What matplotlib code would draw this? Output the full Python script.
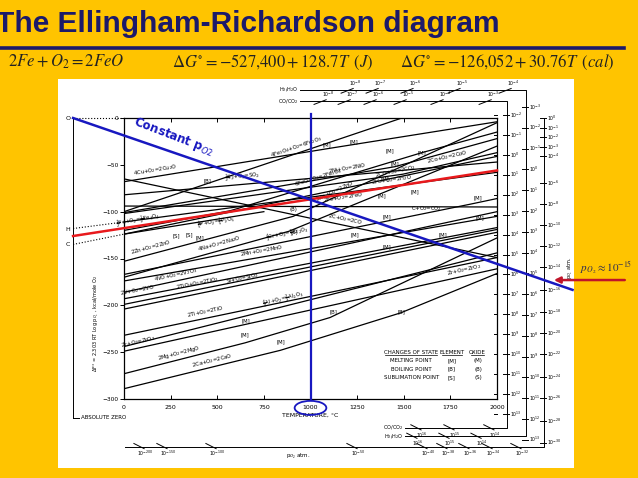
import numpy as np
import matplotlib
matplotlib.use("Agg")
import matplotlib.pyplot as plt
from matplotlib.lines import Line2D
from matplotlib.patches import Rectangle, Ellipse

# oxide lines: (temperature degC, dG kcal / mole O2)
cu2o = ([0, 1083, 2000], [-68, -33, -4])
fe2o3 = ([0, 1490], [-100, 0])
coo = ([0, 1495, 2000], [-102, -60, -37])
nio = ([0, 1452, 2000], [-101, -52, -22])
so2 = ([0, 2000], [-82, -47])
co = ([0, 2000], [-65, -149])
co2 = ([0, 2000], [-94, -95])
co_co2 = ([0, 2000], [-124, -41])
h2o = ([0, 2000], [-111, -58])
feo_fe3o4 = ([570, 1597, 2000], [-99, -37, -15])
fe_fe3o4 = ([0, 570], [-120, -99])
p2o5 = ([0, 750], [-124, -100])
zno = ([0, 907, 2000], [-153, -105, -5])
na2o = ([0, 883, 2000], [-170, -121, -30])
mno = ([0, 1244, 2000], [-174, -131, -105])
cr2o3 = ([0, 1857, 2000], [-167, -92, -86])
vo = ([0, 2000], [-193, -117])
v2o3 = ([0, 2000], [-186, -100])
tio2 = ([0, 2000], [-199, -119])
sio2 = ([0, 1410, 2000], [-204, -146, -122])
tio = ([0, 2000], [-232, -149])
al2o3 = ([0, 660, 2000], [-244, -211, -144])
zro2 = ([0, 2000], [-249, -161])
mgo = ([0, 650, 1105, 2000], [-273, -240, -213, -128])
cao = ([0, 839, 1484, 2000], [-289, -248, -208, -166])
feo = ([-273, 2000], [-126, -56])          # the red one
po2_const = ([-273, 2405], [0, -183.5])    # blue, p_O2 = 1e-15

black_lines = [cu2o, fe2o3, coo, nio, so2, co, co2, co_co2, h2o, feo_fe3o4,
               fe_fe3o4, p2o5, zno, na2o, mno, cr2o3, vo, v2o3, tio2, sio2,
               tio, al2o3, zro2, mgo, cao]

# reaction labels: text, line, T where it sits, offset above line
labels = [
    (r"4Cu+O$_2$=2Cu$_2$O", cu2o, 170, 2.5),
    (r"4Fe$_3$O$_4$+O$_2$=6Fe$_2$O$_3$", fe2o3, 930, 2.5),
    (r"2Ni+O$_2$=2NiO", nio, 1200, 2.5),
    (r"2Co+O$_2$=2CoO", coo, 1740, 2.5),
    (r"2CO+O$_2$=2CO$_2$", co_co2, 1460, 2.0),
    (r"2H$_2$+O$_2$=2H$_2$O", h2o, 1440, 2.0),
    (r"$\frac{1}{2}$S$_2$+O$_2$=SO$_2$", so2, 640, 2.0),
    (r"6FeO+O$_2$=2Fe$_3$O$_4$", feo_fe3o4, 1050, 2.0),
    (r"2Fe+O$_2$=2FeO", feo, 1180, -8.5),
    (r"C+O$_2$=CO$_2$", co2, 1620, -7.0),
    (r"2C+O$_2$=2CO", co, 1180, 1.5),
    (r"$\frac{3}{2}$Fe+O$_2$=$\frac{1}{2}$Fe$_3$O$_4$", fe_fe3o4, 80, 1.5),
    (r"$\frac{4}{5}$P+O$_2$=$\frac{2}{5}$P$_2$O$_5$", p2o5, 500, -9.0),
    (r"2Zn+O$_2$=2ZnO", zno, 150, 2.0),
    (r"2Zn+O$_2$=2ZnO", zno, 1140, 1.5),
    (r"4Na+O$_2$=2Na$_2$O", na2o, 520, 2.0),
    (r"2Mn+O$_2$=2MnO", mno, 740, 2.0),
    (r"$\frac{4}{3}$Cr+O$_2$=$\frac{2}{3}$Cr$_2$O$_3$", cr2o3, 880, 2.0),
    (r"Si+O$_2$=SiO$_2$", sio2, 640, 2.0),
    (r"4VO+O$_2$=2V$_2$O$_3$", v2o3, 280, 2.0),
    (r"2TiO+O$_2$=2TiO$_2$", tio2, 400, 1.5),
    (r"2V+O$_2$=2VO", vo, 75, 1.5),
    (r"2Ti+O$_2$=2TiO", tio, 440, 2.0),
    (r"$\frac{4}{3}$Al+O$_2$=$\frac{2}{3}$Al$_2$O$_3$", al2o3, 860, 2.0),
    (r"Zr+O$_2$=ZrO$_2$", zro2, 80, 2.0),
    (r"Zr+O$_2$=ZrO$_2$", zro2, 1830, 2.0),
    (r"2Mg+O$_2$=2MgO", mgo, 300, 2.0),
    (r"2Ca+O$_2$=2CaO", cao, 480, 2.0),
]

# change-of-state marks
mark_text = ["[M]", "[M]", "[M]", "[M]", "[M]", "[M]", "[M]", "[M]", "[M]",
             "[M]", "[M]", "[M]", "[M]", "[M]", "[B]", "[B]", "[B]", "[S]",
             "[S]", "[M]", "[M]", "[M]", "[M]", "(B)", "(B)"]
mark_t = [1087, 1230, 1426, 1596, 1453, 1400, 1382, 1560, 1900, 1408, 1909,
          1238, 1712, 1408, 1122, 1489, 450, 281, 352, 405, 656, 647, 843,
          911, 915]
mark_g = [-29, -25.6, -34.5, -37, -48.8, -65, -82.6, -79, -85.4, -106,
          -106.8, -125, -125, -137.8, -207, -207, -66.6, -126, -124.6, -128,
          -216, -231, -239, -98, -122]

# nomograph scales
coco2_exp = list(range(-2, 14))
h2h2o_exp = list(range(-3, 14))
po2_exp = [0, -1, -2, -3, -4, -6, -8, -10, -12, -14, -16, -18, -20, -22,
           -24, -26, -28, -30]
po2_g = [0, -10.7, -20.3, -31, -40.6, -69.4, -91.8, -114.2, -136.6, -159,
         -183.6, -207, -229.5, -252, -276.4, -298.8, -323.4, -346.8]
top_h_exp = [-8, -7, -6, -5, -4]
top_h_t = [1239, 1373, 1560, 1812, 2086]
top_c_exp = [-8, -7, -6, -5, -4, -3]
top_c_t = [1094, 1223, 1362, 1523, 1721, 1979]
bot_c_exp = [16, 15, 14]
bot_c_t = [1598, 1775, 1989]
bot_h_exp = [16, 15, 14]
bot_h_t = [1576, 1748, 1920]
bot_p_exp = [-200, -150, -100, -50, -40, -38, -36, -34, -32]
bot_p_t = [113, 236, 499, 1255, 1630, 1737, 1855, 1979, 2134]

yellow = "#FFC400"
navy = "#1C1A6A"
blue = "#1818C0"
red = "#E8191C"

fig = plt.figure(figsize=(6.38, 4.78), dpi=100, facecolor=yellow)

# white panel with the scan
fig.add_artist(Rectangle((58 / 638, 1 - 468 / 478), 516 / 638, 389 / 478,
                         transform=fig.transFigure, facecolor="white",
                         edgecolor="none", zorder=-1))

fig.text(-0.007, 0.950, "The Ellingham-Richardson diagram", color=navy,
         fontsize=21.5, fontweight="bold", va="center", ha="left",
         family=["Liberation Sans", "DejaVu Sans"])
fig.add_artist(Line2D([0, 624 / 638], [1 - 48 / 478] * 2, color=navy, lw=2.6,
                      transform=fig.transFigure))
eq_kw = dict(fontsize=12, color="#222222", va="center", ha="left",
             math_fontfamily="stix")
fig.text(8 / 638, 0.870, r"$2Fe + O_2 = 2FeO$", **eq_kw)
fig.text(172 / 638, 0.870, r"$\Delta G^{\circ} = -527{,}400 + 128.7T\;\;(J)$", **eq_kw)
fig.text(400 / 638, 0.870, r"$\Delta G^{\circ} = -126{,}052 + 30.76T\;\;(cal)$", **eq_kw)

ax = fig.add_axes([124 / 638, 1 - 399 / 478, 373 / 638, 281 / 478])
ax.set_xlim(0, 2000)
ax.set_ylim(-300, 0)
ax.set_xticks(np.arange(0, 2001, 250))
ax.set_yticks(np.arange(-300, 1, 50))
ax.tick_params(axis="x", direction="in", top=True, length=3, width=0.7,
               labelsize=4.5, pad=4)
ax.tick_params(axis="y", direction="out", length=3, width=0.7,
               labelsize=4.2, pad=1)
for s in ax.spines.values():
    s.set_linewidth(0.9)

for t_, g_ in black_lines:
    ax.plot(t_, g_, color="black", lw=0.9)


def angle_at(line, t):
    g1 = np.interp(t - 30, line[0], line[1])
    g2 = np.interp(t + 30, line[0], line[1])
    p1 = ax.transData.transform((t - 30, g1))
    p2 = ax.transData.transform((t + 30, g2))
    return np.degrees(np.arctan2(p2[1] - p1[1], p2[0] - p1[0]))


for txt, line, t, off in labels:
    g = np.interp(t, line[0], line[1]) + off
    ax.text(t, g, txt, fontsize=3.8, rotation=angle_at(line, t),
            rotation_mode="anchor", ha="center", va="bottom")

for txt, t, g in zip(mark_text, mark_t, mark_g):
    ax.text(t, g, txt, fontsize=3.8, ha="center", va="center")

# legend of the changes of state
ax.text(1540, -250, "CHANGES OF STATE", fontsize=4, ha="center", va="center")
ax.text(1757, -250, "ELEMENT", fontsize=4, ha="center", va="center")
ax.text(1895, -250, "OXIDE", fontsize=4, ha="center", va="center")
for x0, x1 in [(1400, 1680), (1705, 1810), (1860, 1932)]:
    ax.plot([x0, x1], [-253.5, -253.5], color="black", lw=0.5)
for i, (name, e, o) in enumerate([("MELTING POINT", "[M]", "(M)"),
                                  ("BOILING POINT", "[B]", "(B)"),
                                  ("SUBLIMATION POINT", "[S]", "(S)")]):
    gy = -259 - 9 * i
    ax.text(1540, gy, name, fontsize=4, ha="center", va="center")
    ax.text(1757, gy, e, fontsize=4, ha="center", va="center")
    ax.text(1900, gy, o, fontsize=4, ha="center", va="center")

ax.set_xlabel("TEMPERATURE, °C", fontsize=4.5, labelpad=2)
ax.text(-150, -219, r"$\Delta$F° = 2.303 RT Log p$_{O_2}$ , kcal/mole O$_2$",
        fontsize=3.6, rotation=90, ha="center", va="center")

ck = dict(color="black", lw=0.7, clip_on=False)
# absolute zero line with O, H, C points
ax.plot([-273, -273], [0, -320], **ck)
ax.plot([-273, -240], [-320, -320], **ck)
ax.text(-232, -320, "ABSOLUTE ZERO", fontsize=4, va="center", ha="left")
ax.plot([-273, 0], [0, 0], color="black", lw=0.8, ls=":", clip_on=False)
ax.plot([-273, 0], [-118, -111], color="black", lw=0.8, ls=":", clip_on=False)
ax.plot([-273, 0], [-135, -124], color="black", lw=0.8, ls=":", clip_on=False)
for txt, g in [("O", 0), ("H", -119.5), ("C", -135.5)]:
    ax.text(-300, g, txt, fontsize=4.5, ha="center", va="center")

lab_fs = 3.3
# CO/CO2 scale
ax.plot([944, 2054, 2054, 1507], [18, 18, -331, -331], **ck)
for e, g in zip(coco2_exp, np.linspace(3.2, -316, len(coco2_exp))):
    ax.plot([2032, 2065], [g, g], **ck)
    ax.text(2072, g, f"10$^{{{e}}}$", fontsize=lab_fs, va="center", ha="left")
    ax.plot([1982, 2000], [g, g], **ck)
# H2/H2O scale
ax.plot([944, 2156, 2156, 1507], [30, 30, -340, -340], **ck)
for e, g in zip(h2h2o_exp, np.linspace(11.7, -343.6, len(h2h2o_exp))):
    ax.plot([2136, 2166], [g, g], **ck)
    ax.text(2173, g, f"10$^{{{e}}}$", fontsize=lab_fs, va="center", ha="left")
# p_O2 scale
ax.plot([5, 2252, 2252], [-351, -351, 0], **ck)
for e, g in zip(po2_exp, po2_g):
    ax.plot([2232, 2262], [g, g], **ck)
    ax.text(2269, g, f"10$^{{{e}}}$", fontsize=lab_fs, va="center", ha="left")

for exps, ts, g in [(top_h_exp, top_h_t, 30), (top_c_exp, top_c_t, 18)]:
    for e, t in zip(exps, ts):
        ax.plot([t - 75, t - 10], [g - 3.5, g + 1.5], **ck)
        ax.text(t, g + 2, f"10$^{{{e}}}$", fontsize=lab_fs, va="bottom", ha="center")
for exps, ts, g in [(bot_c_exp, bot_c_t, -331), (bot_h_exp, bot_h_t, -340),
                    (bot_p_exp, bot_p_t, -351)]:
    for e, t in zip(exps, ts):
        ax.plot([t - 60, t - 5], [g + 3.5, g - 2], **ck)
        ax.text(t, g - 2.5, f"10$^{{{e}}}$", fontsize=lab_fs, va="top", ha="center")

ax.text(935, 30, r"H$_2$/H$_2$O", fontsize=3.6, ha="right", va="center")
ax.text(935, 18, r"CO/CO$_2$", fontsize=3.6, ha="right", va="center")
ax.text(1500, -331, r"CO/CO$_2$", fontsize=3.6, ha="right", va="center")
ax.text(1500, -340, r"H$_2$/H$_2$O", fontsize=3.6, ha="right", va="center")
ax.text(933, -361, r"p$_{O_2}$ atm.", fontsize=4, ha="center", va="center")
ax.text(2395, -160, r"p$_{O_2}$ atm.", fontsize=3.6, rotation=90,
        ha="center", va="center")

# highlighted lines
ax.plot(feo[0], feo[1], color=red, lw=1.8, clip_on=False, zorder=4)
ax.plot([1000, 1000], [4, -300], color=blue, lw=1.6, clip_on=False, zorder=4)
ax.plot(po2_const[0], po2_const[1], color=blue, lw=1.8, clip_on=False, zorder=4)
ax.add_patch(Ellipse((1000, -309.5), 170, 15, fill=False, edgecolor=blue,
                     lw=1.3, clip_on=False, zorder=4))
ax.text(40, -12, r"Constant p$_{O2}$", color=blue, fontsize=8.5,
        fontweight="bold", rotation=angle_at(po2_const, 200) - 2,
        rotation_mode="anchor", ha="left", va="bottom")

ax.annotate("", xy=(2290, -173), xytext=(2700, -173),
            arrowprops=dict(arrowstyle="-|>", color="#C0142A", lw=1.8,
                            mutation_scale=9), annotation_clip=False)
ax.text(2445, -161, r"$p_{O_2} \approx 10^{-15}$", fontsize=8,
        color="#2B2B55", ha="left", va="center", math_fontfamily="stix")

fig.savefig("out.png", dpi=100, facecolor=yellow)
